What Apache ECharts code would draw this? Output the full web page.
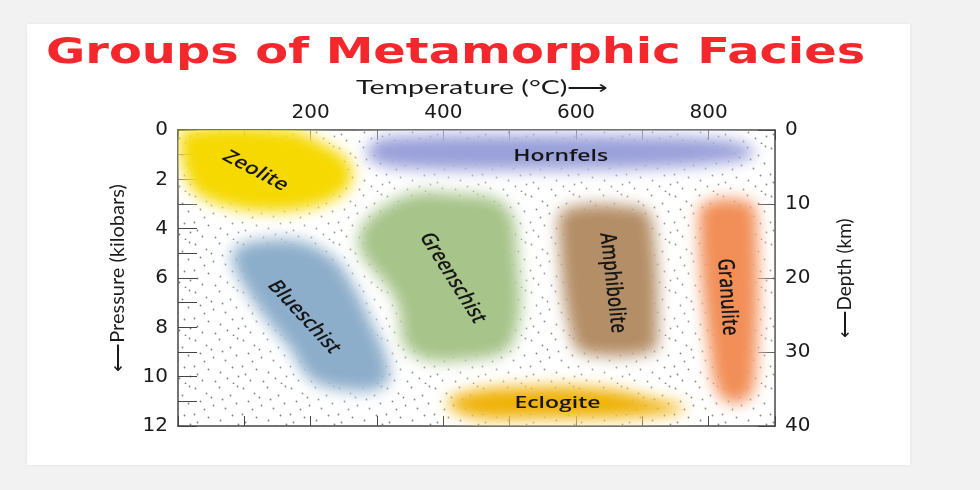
<!DOCTYPE html>
<html><head><meta charset="utf-8">
<script src="https://cdn.jsdelivr.net/npm/echarts@6/dist/echarts.min.js"></script>
<style>html,body{margin:0;padding:0;background:#f2f2f2}#c{width:980px;height:490px}</style>
</head><body><div id="c"></div>
<script>
// ---- data ----
const tempTicks = [200, 400, 600, 800];
const pressureTicks = [0, 2, 4, 6, 8, 10, 12];
const depthTicks = [0, 10, 20, 30, 40];
const faciesNames = ['Zeolite','Hornfels','Greenschist','Blueschist','Amphibolite','Granulite','Eclogite'];
// polygon outlines: [temperature °C, pressure kbar]
const zeolite = [[6,0.05],[165,0.0],[218,0.55],[256,1.25],[262,2.0],[244,2.65],[198,3.15],[130,3.3],[70,3.05],[28,2.55],[10,1.7],[4,0.8]];
const hornfels = [[284,0.95],[300,0.42],[350,0.25],[500,0.2],[700,0.25],[800,0.35],[860,0.65],[868,1.0],[830,1.3],[700,1.55],[500,1.62],[350,1.55],[300,1.35]];
const greenschist = [[335,2.75],[272,4.45],[328,6.9],[350,9.0],[442,9.3],[505,8.6],[511,4.9],[493,3.05],[425,2.6]];
const blueschist = [[108,4.55],[182,4.5],[230,5.1],[252,5.75],[290,7.7],[318,9.65],[310,10.4],[257,10.55],[200,10.1],[168,8.85],[124,7.35],[87,5.7],[83,4.95]];
const amphibolite = [[584,3.2],[694,3.15],[714,3.65],[723,8.45],[714,9.0],[622,9.1],[596,8.65],[574,4.1]];
const granulite = [[795,2.95],[860,2.9],[872,3.5],[870,10.05],[853,11.0],[818,10.8],[801,8.9],[785,3.7]];
const eclogite = [[406,11.05],[443,10.6],[530,10.42],[636,10.48],[708,10.85],[765,11.3],[697,11.6],[545,11.7],[443,11.62]];
const faciesPolys = [zeolite, hornfels, greenschist, blueschist, amphibolite, granulite, eclogite];
const labelPos = [[117,1.66],[577,1.05],[414,6.0],[190,7.58],[655,6.2],[828,6.77],[572,11.07]];
const labelRot = [-35.5,0,-65,-55.5,-85,-87,0];
const faciesColors = ['#f6d900','#9aa0da','#a7c48a','#8daecb','#b48e66','#f28f58','#f0b208'];

// stipple texture (decorative)
const dots = [[3,4],[14,9],[27,3],[38,11],[45,2],[8,17],[21,21],[33,24],[44,19],[2,30],[16,33],[28,36],[40,31],[10,44],[23,45],[35,42],[46,40],[19,13],[5,38],[30,15],[12,25],[41,47]];
const pc = document.createElement('canvas'); pc.width = 48; pc.height = 48;
const pctx = pc.getContext('2d'); pctx.fillStyle = '#fff'; pctx.fillRect(0,0,48,48);
pctx.fillStyle = '#7f7f7f';
dots.forEach(d => { pctx.beginPath(); pctx.arc(d[0]+0.5, d[1]+0.5, 0.9, 0, Math.PI*2); pctx.fill(); });

const OFF = 3000;
const STRETCH = 1.35;
function makeSeries(i) {
  return {
    type: 'custom', name: faciesNames[i], data: faciesPolys[i],
    xAxisIndex: 0, yAxisIndex: 0, clip: true,
    renderItem: function (params, api) {
      if (params.dataIndexInside !== 0) return null;
      const n = params.dataInsideLength;
      const pts = [];
      for (let k = 0; k < n; k++) {
        const p = api.coord([api.value(0, k), api.value(1, k)]);
        pts.push([p[0] - OFF, p[1]]);
      }
      const lp = api.coord(labelPos[i]);
      return { type: 'group', children: [
        { type: 'polygon', z2: 1, shape: { points: pts, smooth: 0.4 },
          style: { fill: '#000', shadowBlur: 34, shadowColor: 'rgba(255,255,255,1)', shadowOffsetX: OFF } },
        { type: 'polygon', z2: 5, shape: { points: pts, smooth: 0.4 },
          style: { fill: '#000', shadowBlur: 15, shadowColor: faciesColors[i], shadowOffsetX: OFF } },
        { type: 'group', x: lp[0], y: lp[1], scaleX: STRETCH, children: [
          { type: 'text', z2: 10, rotation: labelRot[i] * Math.PI / 180,
            style: { text: faciesNames[i], fill: '#161616', font: '600 17px "Open Sans"', align: 'center', verticalAlign: 'middle' } }
        ]}
      ]};
    }
  };
}

const axisCol = '#444';
const lblStyle = { color: '#1a1a1a', fontSize: 20, fontFamily: 'DejaVu Sans' };
const chart = echarts.init(document.getElementById('c'));
chart.setOption({
  backgroundColor: '#f2f2f2',
  animation: false,
  graphic: [
    { type: 'rect', left: 27, top: 24, z: -10, shape: { width: 883, height: 441 },
      style: { fill: '#fff', shadowBlur: 4, shadowColor: 'rgba(0,0,0,0.06)' } },
    { type: 'text', x: 46, y: 36, z: 10, scaleX: 1.33,
      style: { text: 'Groups of Metamorphic Facies', fill: '#f4282c', font: 'bold 36px "DejaVu Sans"', align: 'left', verticalAlign: 'top' } },
    { type: 'text', x: 482, y: 88, z: 10, scaleX: 1.5,
      style: { text: 'Temperature (°C)⟶', fill: '#1a1a1a', font: '19px Lato', align: 'center', verticalAlign: 'middle' } }
  ],
  grid: { left: 178, top: 130, right: 205, bottom: 64, show: true, borderWidth: 0,
          backgroundColor: { image: pc, repeat: 'repeat' } },
  xAxis: [
    { type: 'value', position: 'top', min: 0, max: 900, interval: 100,
      axisLine: { show: true, onZero: false, lineStyle: { color: axisCol, width: 1.5 } },
      axisTick: { show: true, inside: true, length: 10, lineStyle: { color: axisCol } },
      splitLine: { show: false },
      axisLabel: { ...lblStyle, margin: 7, formatter: v => tempTicks.includes(v) ? String(v) : '' } },
    { type: 'value', position: 'bottom', min: 0, max: 900, interval: 100,
      axisLine: { show: true, onZero: false, lineStyle: { color: axisCol, width: 1.5 } },
      axisTick: { show: true, inside: true, length: 10, lineStyle: { color: axisCol } },
      splitLine: { show: false }, axisLabel: { show: false } }
  ],
  yAxis: [
    { type: 'value', position: 'left', inverse: true, min: 0, max: 12, interval: 1,
      name: '⟵Pressure (kilobars)', nameLocation: 'middle', nameGap: 50,
      nameTextStyle: { color: '#1a1a1a', fontSize: 20, fontFamily: 'Lato' },
      axisLine: { show: true, onZero: false, lineStyle: { color: axisCol, width: 1.5 } },
      axisTick: { show: true, inside: true, length: 19, lineStyle: { color: axisCol } },
      splitLine: { show: false },
      axisLabel: { ...lblStyle, margin: 10, formatter: v => pressureTicks.includes(v) ? String(v) : '' } },
    { type: 'value', position: 'right', inverse: true, min: 0, max: 40, interval: 10,
      name: '⟵Depth (km)', nameLocation: 'middle', nameGap: 60,
      nameTextStyle: { color: '#1a1a1a', fontSize: 19, fontFamily: 'Lato' },
      axisLine: { show: true, onZero: false, lineStyle: { color: axisCol, width: 1.5 } },
      axisTick: { show: true, inside: true, length: 17, lineStyle: { color: axisCol } },
      splitLine: { show: false },
      axisLabel: { ...lblStyle, margin: 10, formatter: v => depthTicks.includes(v) ? String(v) : '' } }
  ],
  series: faciesNames.map((_, i) => makeSeries(i))
});
</script></body></html>
